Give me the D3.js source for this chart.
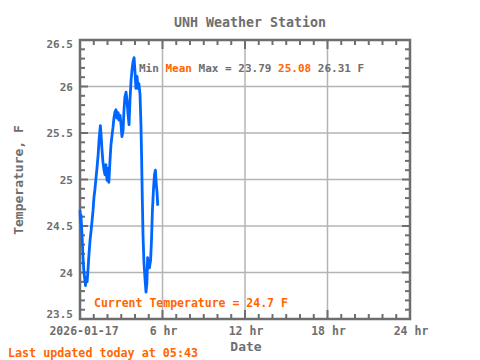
<!DOCTYPE html>
<html><head><meta charset="utf-8">
<script src="https://cdn.jsdelivr.net/npm/d3@7"></script>
<style>body{margin:0;background:#fff}svg{display:block}text{font-family:"DejaVu Sans Mono",monospace;font-weight:bold}</style>
</head><body><svg id="c" width="480" height="360"></svg>
<script>
const minutes = [0,2,4,9,13,17,22,24,26,31,35,39,44,48,52,57,61,65,70,74,79,83,87,89,92,96,100,105,109,113,118,122,126,131,135,140,144,148,153,157,161,166,170,175,179,183,188,192,196,201,205,209,214,218,223,227,231,236,240,244,249,253,257,262,266,269,272,275,279,284,288,292,295,299,303,308,312,316,321,325,329,333,336,339,341];
const temps = [24.67,24.54,24.62,24.40,24.17,24.01,23.90,23.86,23.94,23.90,24.03,24.19,24.35,24.44,24.54,24.67,24.81,24.89,25.02,25.12,25.26,25.42,25.53,25.58,25.48,25.32,25.19,25.10,25.05,25.16,24.99,25.12,24.97,25.21,25.37,25.48,25.56,25.66,25.73,25.75,25.66,25.72,25.64,25.69,25.59,25.46,25.53,25.75,25.89,25.94,25.85,25.72,25.59,25.85,26.07,26.18,26.26,26.31,26.16,25.98,26.11,25.98,26.03,25.91,25.59,25.21,24.78,24.40,24.11,23.92,23.79,23.89,24.16,24.08,24.05,24.13,24.35,24.67,24.91,25.05,25.10,24.94,24.87,24.73,24.72];
const yTicks = [23.5,24,24.5,25,25.5,26,26.5];
const yTickLabels = ["23.5","24","24.5","25","25.5","26","26.5"];
const xTicks = [0,6,12,18,24];
const xTickLabels = ["2026-01-17","6 hr","12 hr","18 hr","24 hr"];
const title = "UNH Weather Station";
const stats = {min:"23.79", mean:"25.08", max:"26.31"};
const current = "24.7";
const updated = "05:43";

const svg = d3.select("#c");
const L=80,R=410,T=40,B=319;
const x = d3.scaleLinear().domain([0,24]).range([L,R]);
const y = d3.scaleLinear().domain([23.5,26.5]).range([B,T]);
const grey="#6e6e6e", orange="#ff6600", grid="#b4b4b4";

// grid
svg.append("g").selectAll("line").data(xTicks.slice(1,4)).join("line")
  .attr("x1",d=>x(d)).attr("x2",d=>x(d)).attr("y1",T).attr("y2",B)
  .attr("stroke",grid).attr("stroke-width",1.5);
svg.append("g").selectAll("line").data(yTicks.slice(1,6)).join("line")
  .attr("x1",L).attr("x2",R).attr("y1",d=>y(d)).attr("y2",d=>y(d))
  .attr("stroke",grid).attr("stroke-width",1.5);

// ticks
const hours = d3.range(0,25);
const minorY = d3.range(0,31).map(i=>23.5+i*0.1);
const g=svg.append("g").attr("stroke",grey).attr("stroke-width",2);
hours.forEach(h=>{
  const major = h%6===0;
  g.append("line").attr("x1",x(h)).attr("x2",x(h)).attr("y1",B).attr("y2",B-(major?9:5));
  g.append("line").attr("x1",x(h)).attr("x2",x(h)).attr("y1",T).attr("y2",T+(major?9:5));
});
minorY.forEach((v,i)=>{
  const major = i%5===0;
  g.append("line").attr("x1",L).attr("x2",L+(major?8:5)).attr("y1",y(v)).attr("y2",y(v));
  g.append("line").attr("x1",R).attr("x2",R-(major?8:5)).attr("y1",y(v)).attr("y2",y(v));
});
svg.append("rect").attr("x",L).attr("y",T).attr("width",R-L).attr("height",B-T)
  .attr("fill","none").attr("stroke",grey).attr("stroke-width",2.5);

// y labels (end labels kept inside the frame's span)
svg.append("g").selectAll("text").data(yTicks).join("text")
  .attr("x",73).attr("y",d=>Math.max(T+8, Math.min(B-1, y(d)+4))).attr("text-anchor","end")
  .attr("font-size",11).attr("fill",grey).text((d,i)=>yTickLabels[i]);
// x labels
svg.append("g").selectAll("text").data(xTicks).join("text")
  .attr("x",(d,i)=>x(d)+(i===0?4:1)).attr("y",335).attr("text-anchor","middle")
  .attr("font-size",11.5).attr("fill",grey).text((d,i)=>xTickLabels[i]);

// line
const line = d3.line().x((d,i)=>x(minutes[i]/60)).y(d=>y(d));
svg.append("path").datum(temps).attr("d",line).attr("fill","none")
  .attr("stroke","#0066ff").attr("stroke-width",2.8).attr("stroke-linejoin","round");

// texts
svg.append("text").attr("x",250).attr("y",27).attr("text-anchor","middle")
  .attr("font-size",13.3).attr("fill",grey).text(title);
const st = svg.append("text").attr("x",139).attr("y",72).attr("font-size",11).attr("fill",grey);
st.append("tspan").text("Min ");
st.append("tspan").attr("fill",orange).text("Mean");
st.append("tspan").text(" Max = "+stats.min+" ");
st.append("tspan").attr("fill",orange).text(stats.mean);
st.append("tspan").text(" "+stats.max+" F");
svg.append("text").attr("x",94).attr("y",307).attr("font-size",11.5).attr("fill",orange)
  .text("Current Temperature = "+current+" F");
svg.append("text").attr("x",8).attr("y",357).attr("font-size",11.7).attr("fill",orange)
  .text("Last updated today at "+updated);
svg.append("text").attr("x",246).attr("y",351).attr("text-anchor","middle")
  .attr("font-size",13).attr("fill",grey).text("Date");
svg.append("text").attr("transform","translate(23,180) rotate(-90)").attr("text-anchor","middle")
  .attr("font-size",13).attr("fill",grey).text("Temperature, F");
</script></body></html>
